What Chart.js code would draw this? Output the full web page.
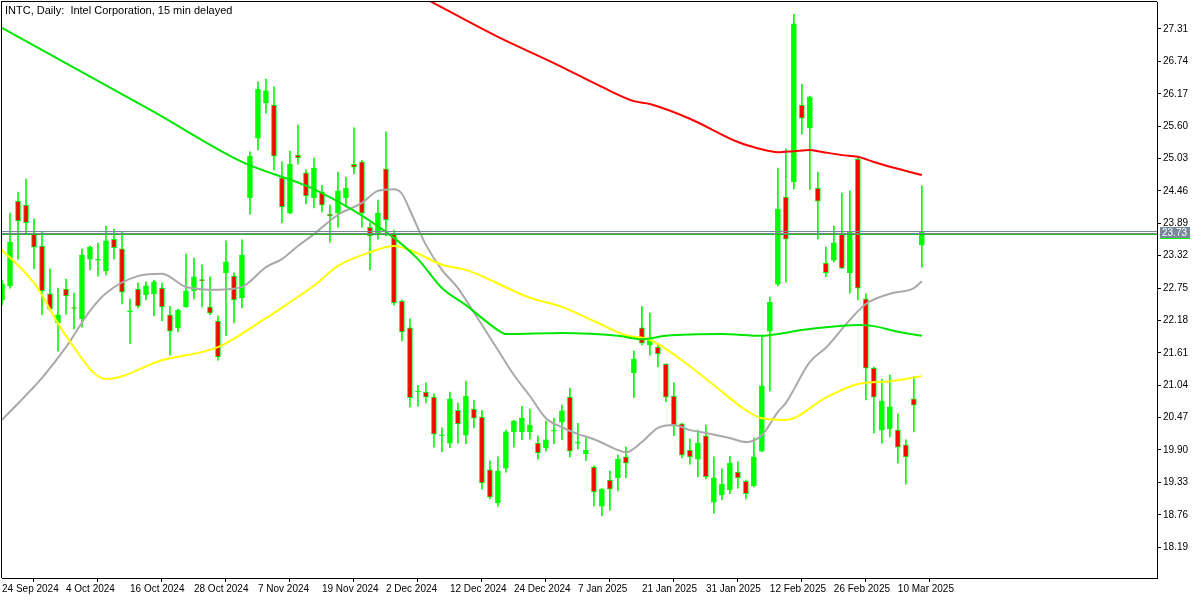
<!DOCTYPE html>
<html>
<head>
<meta charset="utf-8">
<style>
  html, body { margin: 0; padding: 0; background: #fff; }
  canvas { display: block; }
</style>
<script src="https://cdn.jsdelivr.net/npm/chart.js@4.4.1/dist/chart.umd.min.js"></script>
</head>
<body>
<canvas id="c" width="1200" height="600"></canvas>
<script>
// INTC daily candles, 24 Sep 2024 .. 13 Mar 2025
const opens = [22.54,22.79,24.28,24.21,23.72,23.49,22.65,22.14,22.73,22.40,22.21,23.26,23.24,23.05,23.61,23.44,22.33,22.73,22.63,22.65,
  22.75,22.28,22.05,22.42,22.70,22.89,22.42,22.17,23.02,22.96,22.58,24.34,25.39,26.01,25.97,24.69,24.07,25.09,24.78,24.34,
  24.44,24.05,24.07,24.34,24.93,24.97,23.82,23.72,24.85,23.70,22.52,22.05,20.92,20.92,20.83,20.15,20.02,20.60,20.16,20.62,
  20.48,19.55,18.97,19.58,20.22,20.22,20.22,20.02,19.94,20.23,20.39,20.83,20.02,19.83,19.60,18.91,19.37,19.41,19.78,21.26,
  22.05,21.75,21.71,21.41,20.85,20.36,19.90,19.74,20.15,18.98,19.11,19.20,19.51,19.35,19.27,19.88,21.99,22.82,24.35,24.62,
  25.97,25.57,24.51,23.19,23.24,23.70,23.02,25.02,22.56,21.34,20.25,20.27,20.25,19.99,20.80,23.51];
const highs = [22.89,24.07,24.44,24.67,23.97,23.74,23.09,22.75,22.91,22.66,23.44,23.49,23.54,23.84,23.79,23.74,22.56,22.84,22.86,22.89,
  22.84,22.43,22.38,23.35,23.28,23.16,22.95,22.26,23.58,23.02,23.60,25.15,26.38,26.43,26.29,24.97,25.16,25.62,24.83,25.04,
  24.56,24.21,24.79,24.70,25.57,25.00,23.90,24.30,25.50,23.77,22.54,22.21,21.04,21.08,20.89,20.29,20.92,20.73,21.11,20.78,
  20.60,19.71,19.78,20.25,20.42,20.67,20.62,20.15,20.41,20.46,20.69,20.99,20.37,20.11,19.62,19.22,19.53,19.81,19.95,21.64,
  22.43,22.31,21.77,21.42,21.08,20.37,20.09,20.25,20.34,19.78,19.57,19.79,19.69,19.37,20.11,21.89,22.59,24.86,25.20,27.57,
  26.34,26.13,24.79,23.47,23.84,24.42,24.46,25.05,22.65,21.36,21.15,21.22,20.53,20.08,21.19,24.55];
const lows = [22.45,22.75,23.26,23.72,23.09,22.28,22.35,21.64,22.29,22.03,22.06,23.07,22.96,22.98,23.26,22.47,21.77,22.40,22.54,22.26,
  22.17,21.57,21.98,22.41,22.56,22.42,22.28,21.48,21.91,22.14,22.40,24.05,25.18,25.83,24.83,23.90,24.06,24.93,24.23,24.16,
  24.09,23.56,23.82,24.18,24.76,23.82,23.07,23.61,23.67,22.45,21.82,20.66,20.67,20.73,19.95,19.87,19.94,20.02,20.01,20.29,
  19.21,19.04,18.91,19.51,19.95,20.08,20.09,19.74,19.88,20.01,20.08,19.78,19.92,19.71,18.91,18.74,18.84,19.18,19.41,20.82,
  21.75,21.57,21.36,20.75,20.15,19.76,19.65,19.43,19.39,18.79,19.02,19.13,19.23,19.04,19.25,19.87,20.94,22.79,22.86,24.49,
  25.46,24.48,23.61,22.95,23.21,23.09,22.66,22.54,20.78,20.20,20.02,20.13,19.67,19.30,20.22,23.12];
const closes = [22.82,23.56,23.93,23.90,23.47,22.70,22.38,22.28,22.61,22.39,23.33,23.47,23.25,23.58,23.46,22.68,22.34,22.43,22.79,22.86,
  22.42,21.99,22.36,22.70,22.95,22.88,22.31,21.54,23.21,22.54,23.33,25.07,26.25,26.22,25.07,24.18,24.93,25.04,24.37,24.86,
  24.21,24.02,24.46,24.51,24.88,24.07,23.67,24.07,23.95,22.49,21.98,20.82,20.93,20.83,20.18,20.16,20.80,20.36,20.85,20.46,
  19.32,19.07,19.53,20.22,20.41,20.46,20.34,19.85,20.08,20.24,20.59,19.88,20.03,19.90,19.16,19.21,19.21,19.74,19.67,21.50,
  21.78,21.87,21.59,20.83,20.32,19.81,19.78,20.02,19.43,19.41,19.30,19.67,19.41,19.13,19.78,21.03,22.50,24.14,23.61,27.40,
  25.74,26.11,24.28,23.02,23.54,23.10,23.74,22.75,21.34,20.83,20.76,20.66,19.95,19.78,20.69,23.73];

// moving averages, sampled at bar index
const maRed = [[53,27.84],[62,27.17],[69,26.71],[75,26.29],[79,26.04],[81,25.99],[86,25.73],[92,25.32],[94,25.23],[96,25.16],
  [97,25.14],[99,25.16],[101,25.18],[102,25.16],[105,25.09],[107,25.06],[109,24.97],[112,24.85],[115,24.74]];
const maGreen = [[0,27.33],[19,25.85],[30,24.97],[39,24.49],[48,23.74],[52,23.26],[55,22.75],[58,22.45],[62,22.01],[63,21.94],
  [70,21.96],[77,21.91],[80,21.85],[83,21.91],[90,21.94],[95,21.91],[97,21.94],[100,22.01],[103,22.06],[107,22.10],[109,22.08],[112,21.98],[115,21.91]];
const maYellow = [[0,23.42],[4,22.84],[8,21.91],[13,21.15],[20,21.48],[27,21.71],[33,22.22],[36,22.50],[39,22.79],[42,23.14],
  [46,23.38],[49,23.49],[51,23.42],[55,23.16],[58,23.07],[66,22.58],[70,22.42],[74,22.17],[78,21.92],[81,21.84],[85,21.48],
  [89,21.04],[93,20.60],[95,20.46],[98,20.43],[103,20.82],[107,21.06],[111,21.11],[115,21.20]];
const maGray = [[0,20.43],[5,21.17],[8,21.71],[11,22.35],[13,22.66],[17,22.96],[20,23.00],[23,22.77],[27,22.72],[30,22.77],
  [33,23.12],[35,23.26],[37,23.49],[39,23.70],[42,24.04],[45,24.25],[47,24.46],[49,24.49],[50,24.41],[51,24.12],[53,23.51],
  [55,23.07],[57,22.75],[58,22.54],[62,21.66],[64,21.22],[66,20.85],[68,20.46],[70,20.30],[72,20.18],[74,20.09],[77,19.90],
  [78,19.86],[80,20.04],[82,20.29],[84,20.34],[86,20.25],[88,20.20],[91,20.11],[93,20.04],[95,20.16],[97,20.57],[98,20.73],
  [101,21.45],[103,21.70],[106,22.19],[108,22.47],[111,22.65],[114,22.75],[115,22.87]];

const dateIdx  = [0,8,16,24,32,40,48,56,64,72,80,88,96,104,112];
const dateText = ['24 Sep 2024','4 Oct 2024','16 Oct 2024','28 Oct 2024','7 Nov 2024','19 Nov 2024','2 Dec 2024',
  '12 Dec 2024','24 Dec 2024','7 Jan 2025','21 Jan 2025','31 Jan 2025','12 Feb 2025','26 Feb 2025','10 Mar 2025'];
const priceTicks = [27.31,26.74,26.17,25.60,25.03,24.46,23.89,23.32,22.75,22.18,21.61,21.04,20.47,19.90,19.33,18.76,18.19];
const lastPrice = 23.73;
const askPrice = 23.71;

const GREEN = '#00ff00';
const RED = '#ff0000';
const FONT = { family: 'Liberation Sans', size: 10 };

const wicks = highs.map((h, i) => ({ x: i, y: [lows[i], h] }));
const bodies = opens.map((o, i) => ({ x: i, y: [o, closes[i]] }));
const bodyFill = opens.map((o, i) => closes[i] < o ? RED : GREEN);
const pts = arr => arr.map(p => ({ x: p[0], y: p[1] }));

const lineDs = (data, color) => ({
  type: 'line', data: pts(data), borderColor: color, borderWidth: 2,
  pointRadius: 0, cubicInterpolationMode: 'monotone', order: 0,
});

const overlay = {
  id: 'overlay',
  afterDatasetsDraw(chart) {
    const { ctx, chartArea: a, scales: { y } } = chart;
    ctx.save();
    // last price / ask lines
    const yl = Math.round(y.getPixelForValue(lastPrice));
    ctx.fillStyle = '#778899';
    ctx.fillRect(a.left, yl - 1, a.right - a.left, 1);
    ctx.fillRect(a.left, yl + 1, a.right - a.left, 1);
    const ya = Math.round(y.getPixelForValue(askPrice));
    ctx.fillStyle = '#22bb22';
    ctx.fillRect(a.left, ya, a.right - a.left, 1);
    // label on the axis
    ctx.fillStyle = '#778899';
    ctx.fillRect(a.right + 3, yl - 5, 30, 11);
    ctx.fillStyle = GREEN;
    ctx.fillRect(a.right + 3, yl + 6, 30, 1);
    ctx.fillStyle = '#fff';
    ctx.font = '10px "Liberation Sans"';
    ctx.textBaseline = 'middle';
    ctx.fillText(lastPrice.toFixed(2), a.right + 5, yl + 1);
    // frame
    ctx.fillStyle = '#000';
    ctx.fillRect(a.left - 1, a.top - 1, a.right - a.left + 1, 1);
    ctx.fillRect(a.left - 1, a.top - 1, 1, a.bottom - a.top + 1);
    // title
    ctx.font = '11px "Liberation Sans"';
    ctx.textBaseline = 'alphabetic';
    ctx.fillText('INTC, Daily:  Intel Corporation, 15 min delayed', 5, 14);
    ctx.restore();
  },
};

new Chart(document.getElementById('c'), {
  type: 'bar',
  data: {
    datasets: [
      lineDs(maRed, RED),
      lineDs(maGreen, '#00e600'),
      lineDs(maYellow, '#ffff00'),
      lineDs(maGray, '#a9a9a9'),
      {
        data: bodies, backgroundColor: bodyFill, borderColor: GREEN, borderWidth: 1,
        borderSkipped: false, barThickness: 5, minBarLength: 1, grouped: false, order: 1,
      },
      {
        data: wicks, backgroundColor: GREEN, borderWidth: 0,
        barThickness: 1, grouped: false, order: 2,
      },
    ],
  },
  plugins: [overlay],
  options: {
    responsive: false,
    animation: false,
    devicePixelRatio: 1,
    layout: { padding: { left: 2, top: 2, right: 0, bottom: 0 } },
    plugins: { legend: { display: false }, tooltip: { enabled: false } },
    scales: {
      x: {
        type: 'linear', min: 0, max: 144.4, offset: false,
        afterBuildTicks: ax => { ax.ticks = dateIdx.map(v => ({ value: v })); },
        afterFit: ax => { ax.height = 22; ax.paddingLeft = 0; ax.paddingRight = 0; },
        ticks: {
          color: '#000', font: FONT, align: 'start', maxRotation: 0, autoSkip: false, padding: 1,
          callback: v => dateText[dateIdx.indexOf(v)] || '',
        },
        grid: { drawOnChartArea: false, tickLength: 4, color: '#000' },
        border: { color: '#000' },
      },
      y: {
        position: 'right', min: 17.647, max: 27.785,
        afterBuildTicks: ax => { ax.ticks = priceTicks.map(v => ({ value: v })); },
        afterFit: ax => { ax.width = 43; ax.paddingTop = 0; ax.paddingBottom = 0; },
        ticks: { color: '#000', font: FONT, padding: 2, callback: v => v.toFixed(2) },
        grid: { drawOnChartArea: false, tickLength: 4, color: '#000' },
        border: { color: '#000' },
      },
    },
  },
});
</script>
</body>
</html>
